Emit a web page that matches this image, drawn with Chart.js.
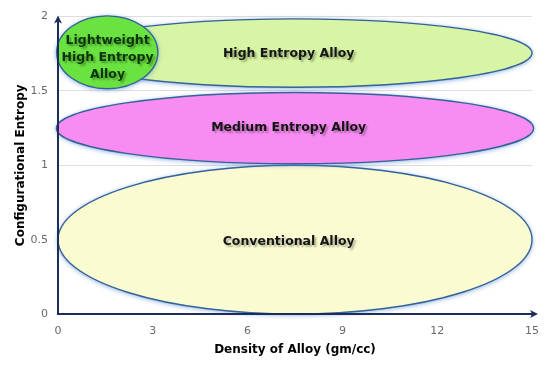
<!DOCTYPE html>
<html>
<head>
<meta charset="utf-8">
<script src="https://cdn.jsdelivr.net/npm/chart.js@4"></script>
<style>
html,body{margin:0;padding:0;background:#fff;}
#wrap{width:550px;height:367px;}
</style>
</head>
<body>
<div id="wrap"><canvas id="c" width="550" height="367"></canvas></div>
<script>
// ---- data ----
const xTicks = [0, 3, 6, 9, 12, 15];
const xTickLabels = ['0', '3', '6', '9', '12', '15'];
const yTicks = [0, 0.5, 1, 1.5, 2];
const yTickLabels = ['0', '0.5', '1', '1.5', '2'];
const regionNames = [
  ['Conventional Alloy'],
  ['Medium Entropy Alloy'],
  ['High Entropy Alloy'],
  ['Lightweight', 'High Entropy', 'Alloy']
];
const centerDensity = [7.5, 7.5, 7.5, 1.56];
const centerEntropy = [0.5, 1.25, 1.755, 1.76];
const halfDensity = [7.5, 7.55, 7.5, 1.6];
const halfEntropy = [0.5, 0.24, 0.23, 0.245];
const labelDensity = [7.3, 7.3, 7.3, 1.57];
const labelEntropy = [0.485, 1.25, 1.75, 1.72];

const fills = ['#fbfbd2', '#f98cf2', '#d7f5a4', '#6ae23f'];
const textColors = ['#151515', '#151515', '#151515', '#0b360b'];

const regionPlugin = {
  id: 'regions',
  beforeDatasetsDraw(chart) {
    const ctx = chart.ctx;
    const xs = chart.scales.x, ys = chart.scales.y;
    for (let i = 0; i < regionNames.length; i++) {
      const cx = xs.getPixelForValue(centerDensity[i]);
      const cy = ys.getPixelForValue(centerEntropy[i]);
      const rx = Math.abs(xs.getPixelForValue(centerDensity[i] + halfDensity[i]) - cx);
      const ry = Math.abs(ys.getPixelForValue(centerEntropy[i] + halfEntropy[i]) - cy);
      ctx.save();
      ctx.beginPath();
      ctx.ellipse(cx, cy, rx, ry, 0, 0, Math.PI * 2);
      ctx.shadowColor = 'rgba(90,140,210,0.8)';
      ctx.shadowBlur = 5;
      ctx.shadowOffsetY = 1;
      ctx.fillStyle = fills[i];
      ctx.fill();
      ctx.shadowColor = 'transparent';
      ctx.lineWidth = 1.4;
      ctx.strokeStyle = '#33639a';
      ctx.stroke();
      ctx.restore();
    }
    // axes with arrows
    const left = xs.getPixelForValue(0);
    const bottom = ys.getPixelForValue(0);
    const right = xs.getPixelForValue(15) + 6;
    const top = ys.getPixelForValue(2) - 1;
    ctx.save();
    ctx.strokeStyle = '#1c2d5a';
    ctx.fillStyle = '#1c2d5a';
    ctx.lineWidth = 2;
    ctx.beginPath();
    ctx.moveTo(left, top + 4);
    ctx.lineTo(left, bottom);
    ctx.lineTo(right - 4, bottom);
    ctx.stroke();
    ctx.beginPath();
    ctx.moveTo(right, bottom);
    ctx.lineTo(right - 8, bottom - 4);
    ctx.lineTo(right - 6, bottom);
    ctx.lineTo(right - 8, bottom + 4);
    ctx.closePath();
    ctx.fill();
    ctx.beginPath();
    ctx.moveTo(left, top);
    ctx.lineTo(left - 4, top + 8);
    ctx.lineTo(left, top + 6);
    ctx.lineTo(left + 4, top + 8);
    ctx.closePath();
    ctx.fill();
    ctx.restore();
    // labels
    for (let i = 0; i < regionNames.length; i++) {
      const lx = xs.getPixelForValue(labelDensity[i]);
      const ly = ys.getPixelForValue(labelEntropy[i]);
      const lines = regionNames[i];
      const lh = 17;
      ctx.save();
      ctx.font = 'bold 12.5px "DejaVu Sans", Verdana, sans-serif';
      ctx.textAlign = 'center';
      ctx.textBaseline = 'middle';
      ctx.shadowColor = 'rgba(0,0,0,0.3)';
      ctx.shadowBlur = 2;
      ctx.shadowOffsetX = 2;
      ctx.shadowOffsetY = 2;
      ctx.fillStyle = textColors[i];
      lines.forEach((t, k) => {
        ctx.fillText(t, lx, ly + (k - (lines.length - 1) / 2) * lh);
      });
      ctx.restore();
    }
  }
};

new Chart(document.getElementById('c'), {
  type: 'scatter',
  data: { datasets: [{ data: [], showLine: false }] },
  options: {
    responsive: false,
    animation: false,
    events: [],
    layout: { padding: { top: 12, right: 13, left: 0, bottom: 0 } },
    plugins: { legend: { display: false }, tooltip: { enabled: false } },
    scales: {
      x: {
        type: 'linear', min: 0, max: 15,
        afterBuildTicks(s) { s.ticks = xTicks.map(v => ({ value: v })); },
        afterFit(s) { s.height = 53; },
        grid: { display: false, drawTicks: false },
        border: { display: false },
        ticks: { color: '#6a6a6a', padding: 11, font: { family: '"DejaVu Sans", Verdana, sans-serif', size: 11 },
          callback: (v) => xTickLabels[xTicks.indexOf(v)] },
        title: { display: true, text: 'Density of Alloy (gm/cc)', color: '#000', padding: { top: 0, bottom: 10 },
          font: { family: '"DejaVu Sans", Verdana, sans-serif', size: 12, weight: 'bold' } }
      },
      y: {
        type: 'linear', min: 0, max: 2,
        afterBuildTicks(s) { s.ticks = yTicks.map(v => ({ value: v })); },
        afterFit(s) { s.width = 58; },
        grid: { color: '#dedede', drawTicks: false },
        border: { display: false },
        ticks: { color: '#6a6a6a', padding: 10, font: { family: '"DejaVu Sans", Verdana, sans-serif', size: 11 },
          callback: (v) => yTickLabels[yTicks.indexOf(v)] },
        title: { display: true, text: 'Configurational Entropy', color: '#000', padding: { top: 14, bottom: 0 },
          font: { family: '"DejaVu Sans", Verdana, sans-serif', size: 12, weight: 'bold' } }
      }
    }
  },
  plugins: [regionPlugin]
});
</script>
</body>
</html>
